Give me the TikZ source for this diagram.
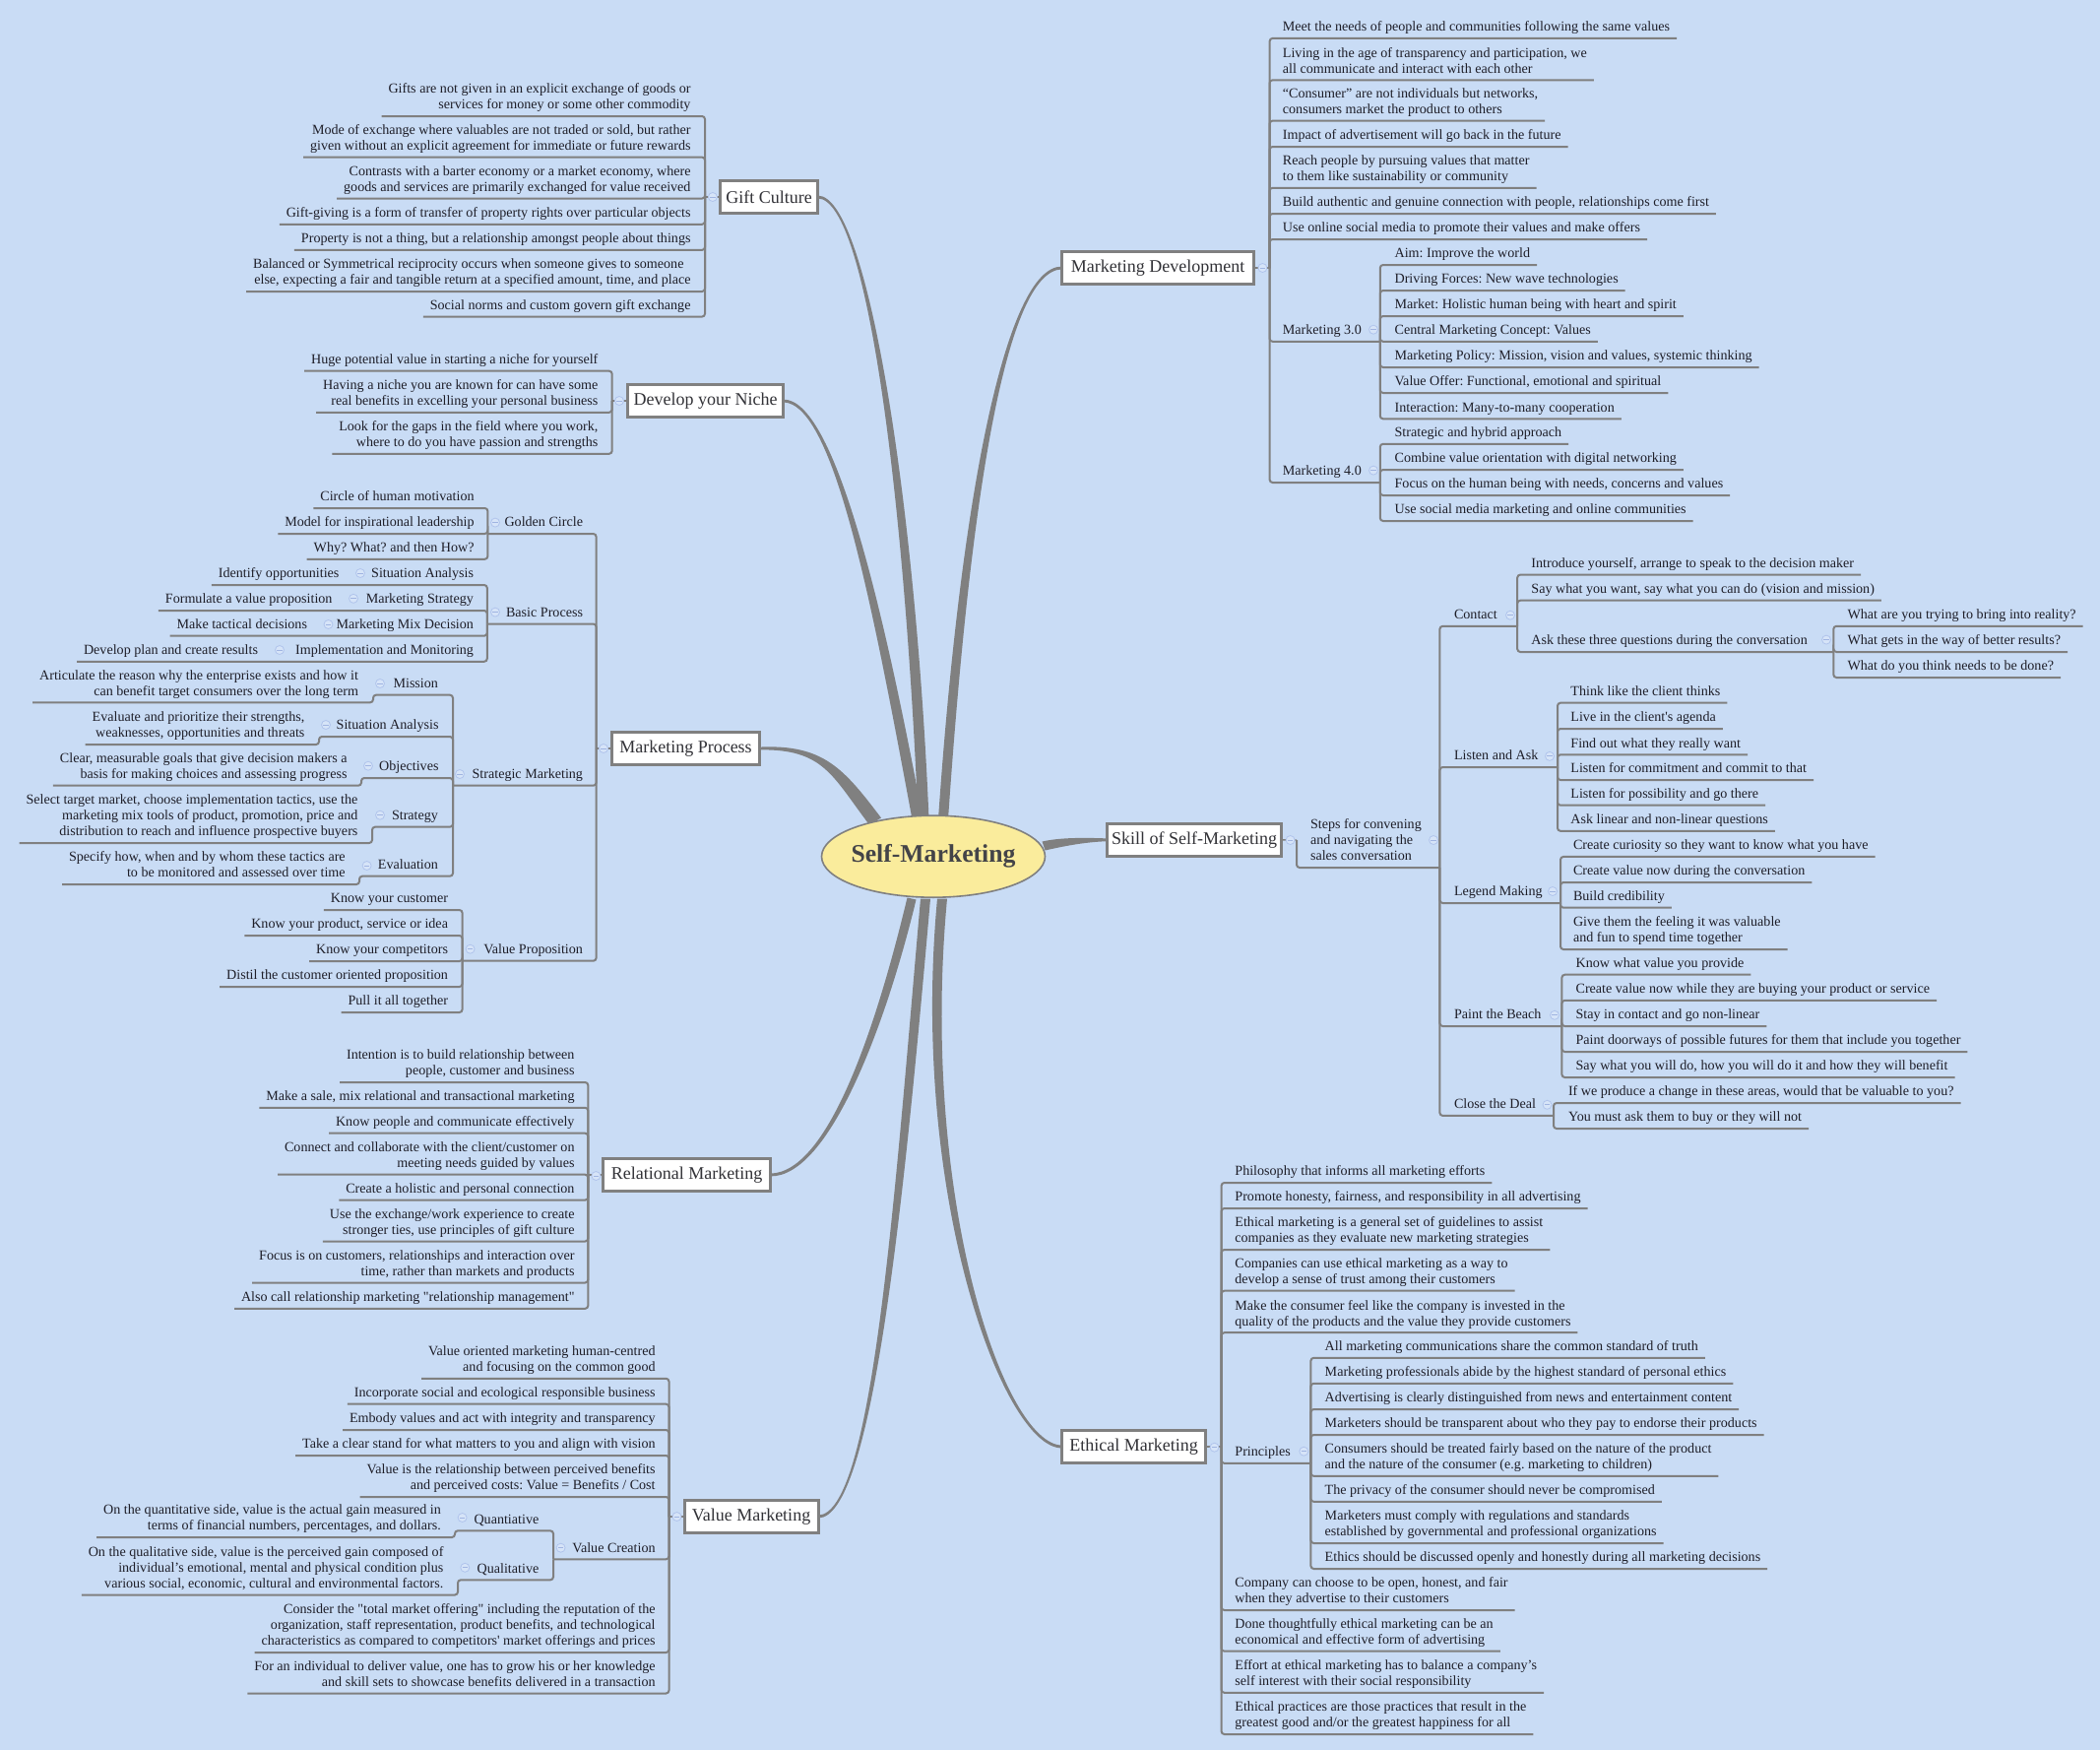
\documentclass[tikz,border=0pt]{standalone}
\usepackage{fontspec}
\usetikzlibrary{calc,shapes.geometric}
\newfontfamily\mapfont{Liberation Serif}
\AtBeginDocument{\frenchspacing}
\definecolor{bgblue}{RGB}{201,220,245}
\definecolor{linegrey}{RGB}{128,128,128}
\definecolor{hubyellow}{RGB}{250,236,156}
\definecolor{leaftext}{RGB}{30,30,40}
\definecolor{boxtext}{RGB}{50,50,55}
\definecolor{hubtext}{RGB}{68,68,72}
\definecolor{mkfill}{RGB}{214,228,248}
\definecolor{mkline}{RGB}{176,196,236}
\definecolor{mkminus}{RGB}{160,180,225}
\tikzset{
  conn/.style={draw=linegrey,line width=2pt,rounded corners=3pt},
  thinconn/.style={draw=linegrey,line width=1.4pt},
  taper/.style={fill=linegrey,draw=none},
  leafL/.style={anchor=south east,align=right,inner sep=0pt,outer sep=0pt,text depth=7.2pt,text=leaftext,font=\mapfont\fontsize{14.1}{16}\selectfont},
  leafR/.style={anchor=south west,align=left,inner sep=0pt,outer sep=0pt,text depth=7.2pt,text=leaftext,font=\mapfont\fontsize{14.1}{16}\selectfont},
  topicbox/.style={draw=linegrey,line width=3pt,fill=white,text=boxtext,inner sep=0pt,outer sep=0pt,minimum height=33pt,font=\mapfont\fontsize{18}{20}\selectfont},
  hubnode/.style={ellipse,draw=linegrey,line width=1.6pt,fill=hubyellow,text=hubtext,inner ysep=0pt,inner xsep=-10pt,outer sep=0pt,minimum width=227pt,minimum height=83pt,font=\mapfont\bfseries\fontsize{25.7}{30}\selectfont},
  marker/.style={circle,draw=mkline,line width=0.8pt,fill=mkfill,minimum size=9pt,inner sep=0pt,
    path picture={\draw[draw=mkminus,line width=0.9pt] ($(path picture bounding box.center)+(-2.6,0)$) -- ($(path picture bounding box.center)+(2.6,0)$);}},
}
% left-side leaf: name, text right x, underline y, text, parent hub
\newcommand\lleaf[5]{\node[leafL] (#1) at (#2,#3) {#4};\draw[conn] (#5) |- ($(#1.south west)+(-7,0)$);}
\newcommand\rleaf[5]{\node[leafR] (#1) at (#2,#3) {#4};\draw[conn] (#5) |- ($(#1.south east)+(7,0)$);}
% label with a child reached through a step: label name,x,y,text,corner x,child name,x,y,text,hub
\newcommand\nestL[9]{\node[leafL] (#1) at (#2,#3) {#4};\coordinate (#1-c) at (#5,#3);\node[leafL] (#6) at (#7,#8) {#9};\nestLdraw{#1}{#6}}
\newcommand\nestLdraw[3]{\draw[conn] (#3) |- (#1-c) |- ($(#2.south west)+(-7,0)$);}
\newcommand\mk[3]{\node[marker] (#1) at (#2,#3) {};}
% tapered branch: start, end, start control offset, end control offset, half width at the end
\newcommand\branch[5]{\fill[taper] ($(#1)+(0,-1.4)$) .. controls ($(#1)+(#3)+(0,-2.4)$) and ($(#2)+(#4)+(#5)$) .. ($(#2)+(#5)$) -- ($(#2)-(#5)$) .. controls ($(#2)+(#4)-(#5)$) and ($(#1)+(#3)+(0,2.4)$) .. ($(#1)+(0,1.4)$) -- cycle;}
\begin{document}
\begin{tikzpicture}[x=1pt,y=-1pt]
\useasboundingbox (0,0) rectangle (2133,1777);
\fill[bgblue] (0,0) rectangle (2133,1777);

% main topics
\node[topicbox,minimum width=99pt] (gift) at (781,200) {Gift Culture};
\node[topicbox,minimum width=158pt] (niche) at (716.5,407) {Develop your Niche};
\node[topicbox,minimum width=150pt] (proc) at (696.5,760) {Marketing Process};
\node[topicbox,minimum width=170pt] (rel) at (697.5,1193) {Relational Marketing};
\node[topicbox,minimum width=136pt] (val) at (763,1540) {Value Marketing};
\node[topicbox,minimum width=194.5pt] (mdev) at (1176,272) {Marketing Development};
\node[topicbox,minimum width=177.5pt] (skill) at (1213.2,852.8) {Skill of Self-Marketing};
\node[topicbox,minimum width=145.7pt] (eth) at (1151.6,1469) {Ethical Marketing};

% ends of the branches on the central topic
\coordinate (eGift) at (938,832);
\coordinate (eNiche) at (932,832);
\coordinate (eProc) at (889,834);
\coordinate (eMdev) at (958,832);
\coordinate (eSkill) at (1060,859);
\coordinate (eRel) at (926,912.5);
\coordinate (eVal) at (940,912.5);
\coordinate (eEth) at (957,912.5);
\branch{gift.east}{eGift}{52,0}{-13,-310}{5.5,0}
\branch{niche.east}{eNiche}{52,0}{-40,-215}{5.5,0}
\branch{proc.east}{eProc}{65,-2}{-38,-50}{6,-3.5}
\branch{mdev.west}{eMdev}{-58,0}{22,-320}{-5,0}
\branch{rel.east}{eRel}{60,0}{-30,125}{-4.5,-1}
\branch{val.east}{eVal}{55,0}{-27,310}{-5,0}
\branch{eth.west}{eEth}{-60,0}{-28,300}{5,0}
\branch{skill.west}{eSkill}{-25,0}{18,-4}{-1.5,-4.5}
\node[hubnode] (hub) at (948,869.7) {Self-Marketing};

% ---------- Gift Culture
\coordinate (hGift) at (716,200);
\draw[thinconn] (gift.west) -- (hGift);
\lleaf{g1}{701.5}{118}{Gifts are not given in an explicit exchange of goods or\\services for money or some other commodity}{hGift}
\lleaf{g2}{701.5}{159.6}{Mode of exchange where valuables are not traded or sold, but rather\\given without an explicit agreement for immediate or future rewards}{hGift}
\lleaf{g3}{701.5}{201.6}{Contrasts with a barter economy or a market economy, where\\goods and services are primarily exchanged for value received}{hGift}
\lleaf{g4}{701.5}{227.8}{Gift-giving is a form of transfer of property rights over particular objects}{hGift}
\lleaf{g5}{701.5}{253.9}{Property is not a thing, but a relationship amongst people about things}{hGift}
\lleaf{g6}{701.5}{296}{Balanced or Symmetrical reciprocity occurs when someone gives to someone\kern7pt\\else, expecting a fair and tangible return at a specified amount, time, and place}{hGift}
\lleaf{g7}{701.5}{321.6}{Social norms and custom govern gift exchange}{hGift}
\mk{mGift}{723.9}{200}

% ---------- Develop your Niche
\coordinate (hNiche) at (621.7,407);
\draw[thinconn] (niche.west) -- (hNiche);
\lleaf{n1}{607.4}{376.7}{Huge potential value in starting a niche for yourself}{hNiche}
\lleaf{n2}{607.4}{418.8}{Having a niche you are known for can have some\\real benefits in excelling your personal business}{hNiche}
\lleaf{n3}{607.4}{460.8}{Look for the gaps in the field where you work,\\where to do you have passion and strengths}{hNiche}
\mk{mNiche}{629}{407}

% ---------- Marketing Process
\coordinate (hProc) at (605.6,760);
\draw[thinconn] (proc.west) -- (hProc);
\mk{mProc}{613}{760}
% Golden Circle
\coordinate (hGold) at (495.4,542);
\node[leafL] (lGold) at (592,542) {Golden Circle};
\draw[conn] (hProc) |- (hGold);
\lleaf{p1}{481.6}{516}{Circle of human motivation}{hGold}
\lleaf{p2}{481.6}{542}{Model for inspirational leadership}{hGold}
\lleaf{p3}{481.6}{567.8}{Why? What? and then How?}{hGold}
\mk{mGold}{503}{530.6}
% Basic Process
\coordinate (hBasic) at (494.8,633.5);
\node[leafL] (lBasic) at (592,633.5) {Basic Process};
\draw[conn] (hProc) |- (hBasic);
\mk{mBasic}{503}{621.6}
\node[leafL] (bl1) at (481,594) {Situation Analysis};
\lleaf{bc1}{344.4}{594}{Identify opportunities}{hBasic}
\mk{mb1}{366}{582}
\node[leafL] (bl2) at (481,620) {Marketing Strategy};
\lleaf{bc2}{337.5}{620}{Formulate a value proposition}{hBasic}
\mk{mb2}{359}{607.8}
\node[leafL] (bl3) at (481,645.7) {Marketing Mix Decision};
\lleaf{bc3}{312}{645.7}{Make tactical decisions}{hBasic}
\mk{mb3}{333.5}{634}
\node[leafL] (bl4) at (481,671.8) {Implementation and Monitoring};
\lleaf{bc4}{262}{671.8}{Develop plan and create results}{hBasic}
\mk{mb4}{284}{660}
% Strategic Marketing
\coordinate (hStrat) at (460,797.7);
\node[leafL] (lStrat) at (592,797.7) {Strategic Marketing};
\draw[conn] (hProc) |- (hStrat);
\mk{mStrat}{467}{786}
\nestL{s1}{445}{705.7}{Mission}{379}{s1c}{364}{713.3}{Articulate the reason why the enterprise exists and how it\\can benefit target consumers over the long term}{hStrat}
\mk{ms1}{386}{694}
\nestL{s2}{445.5}{748}{Situation Analysis}{324}{s2c}{309.4}{756}{Evaluate and prioritize their strengths,\\weaknesses, opportunities and threats}{hStrat}
\mk{ms2}{331}{736}
\nestL{s3}{445.5}{790}{Objectives}{367}{s3c}{352.5}{797.7}{Clear, measurable goals that give decision makers a\\basis for making choices and assessing progress}{hStrat}
\mk{ms3}{374}{777.7}
\nestL{s4}{445}{839.7}{Strategy}{378}{s4c}{363.4}{856}{Select target market, choose implementation tactics, use the\\marketing mix tools of product, promotion, price and\\distribution to reach and influence prospective buyers}{hStrat}
\mk{ms4}{386}{827.7}
\nestL{s5}{445}{889.7}{Evaluation}{365}{s5c}{350.7}{898}{Specify how, when and by whom these tactics are\\to be monitored and assessed over time}{hStrat}
\mk{ms5}{372.6}{879}
% Value Proposition
\coordinate (hProp) at (469.6,975.7);
\node[leafL] (lProp) at (592,975.7) {Value Proposition};
\draw[conn] (hProc) |- (hProp);
\mk{mProp}{477.6}{963.7}
\lleaf{v1}{455}{924}{Know your customer}{hProp}
\lleaf{v2}{455}{950}{Know your product, service or idea}{hProp}
\lleaf{v3}{455}{976}{Know your competitors}{hProp}
\lleaf{v4}{455}{1002}{Distil the customer oriented proposition}{hProp}
\lleaf{v5}{455}{1028}{Pull it all together}{hProp}

% ---------- Relational Marketing
\coordinate (hRel) at (597.3,1193);
\draw[thinconn] (rel.west) -- (hRel);
\lleaf{r1}{583.5}{1099}{Intention is to build relationship between\\people, customer and business}{hRel}
\lleaf{r2}{583.5}{1124.8}{Make a sale, mix relational and transactional marketing}{hRel}
\lleaf{r3}{583.5}{1150.7}{Know people and communicate effectively}{hRel}
\lleaf{r4}{583.5}{1192.7}{Connect and collaborate with the client/customer on\\meeting needs guided by values}{hRel}
\lleaf{r5}{583.5}{1218.6}{Create a holistic and personal connection}{hRel}
\lleaf{r6}{583.5}{1260.5}{Use the exchange/work experience to create\\stronger ties, use principles of gift culture}{hRel}
\lleaf{r7}{583.5}{1302.5}{Focus is on customers, relationships and interaction over\\time, rather than markets and products}{hRel}
\lleaf{r8}{583.5}{1328.8}{Also call relationship marketing "relationship management"}{hRel}
\mk{mRel}{605.4}{1194}

% ---------- Value Marketing
\coordinate (hVal) at (679.5,1540);
\draw[thinconn] (val.west) -- (hVal);
\lleaf{w1}{665.6}{1399.8}{Value oriented marketing human-centred\\and focusing on the common good}{hVal}
\lleaf{w2}{665.6}{1425.7}{Incorporate social and ecological responsible business}{hVal}
\lleaf{w3}{665.6}{1452}{Embody values and act with integrity and transparency}{hVal}
\lleaf{w4}{665.6}{1478}{Take a clear stand for what matters to you and align with vision}{hVal}
\lleaf{w5}{665.6}{1520}{Value is the relationship between perceived benefits\\and perceived costs: Value = Benefits / Cost}{hVal}
\coordinate (hCre) at (562,1583.3);
\node[leafL] (lCre) at (665.6,1583.3) {Value Creation};
\draw[conn] (hVal) |- (hCre);
\mk{mCre}{569.6}{1571.7}
\nestL{q1}{547.3}{1554.3}{Quantiative}{462}{q1c}{447.8}{1561}{On the quantitative side, value is the actual gain measured in\\terms of financial numbers, percentages, and dollars.}{hCre}
\mk{mq1}{469.6}{1541}
\nestL{q2}{547.3}{1604.3}{Qualitative}{465}{q2c}{450.4}{1619.5}{On the qualitative side, value is the perceived gain composed of\\individual’s emotional, mental and physical condition plus\\various social, economic, cultural and environmental factors.}{hCre}
\mk{mq2}{472.3}{1591.8}
\lleaf{w6}{665.6}{1678}{Consider the "total market offering" including the reputation of the\\organization, staff representation, product benefits, and technological\\characteristics as compared to competitors' market offerings and prices}{hVal}
\lleaf{w7}{665.6}{1719.5}{For an individual to deliver value, one has to grow his or her knowledge\\and skill sets to showcase benefits delivered in a transaction}{hVal}
\mk{mVal}{687.5}{1540}

% ---------- Marketing Development
\coordinate (hDev) at (1289.6,272);
\draw[thinconn] (mdev.east) -- (hDev);
\rleaf{d1}{1302.9}{38.9}{Meet the needs of people and communities following the same values}{hDev}
\rleaf{d2}{1302.9}{81.3}{Living in the age of transparency and participation, we\\all communicate and interact with each other}{hDev}
\rleaf{d3}{1302.9}{122.6}{“Consumer” are not individuals but networks,\\consumers market the product to others}{hDev}
\rleaf{d4}{1302.9}{149}{Impact of advertisement will go back in the future}{hDev}
\rleaf{d5}{1302.9}{190.8}{Reach people by pursuing values that matter\\to them like sustainability or community}{hDev}
\rleaf{d6}{1302.9}{217}{Build authentic and genuine connection with people, relationships come first}{hDev}
\rleaf{d7}{1302.9}{243}{Use online social media to promote their values and make offers}{hDev}
\mk{mDev}{1282.4}{272}
\coordinate (hM3) at (1401.8,346.8);
\node[leafR] (lM3) at (1302.9,346.8) {Marketing 3.0};
\draw[conn] (hDev) |- (hM3);
\mk{mM3}{1395}{334.7}
\rleaf{e1}{1416.6}{269}{Aim: Improve the world}{hM3}
\rleaf{e2}{1416.6}{295}{Driving Forces: New wave technologies}{hM3}
\rleaf{e3}{1416.6}{321}{Market: Holistic human being with heart and spirit}{hM3}
\rleaf{e4}{1416.6}{346.8}{Central Marketing Concept: Values}{hM3}
\rleaf{e5}{1416.6}{373}{Marketing Policy: Mission, vision and values, systemic thinking}{hM3}
\rleaf{e6}{1416.6}{399}{Value Offer: Functional, emotional and spiritual}{hM3}
\rleaf{e7}{1416.6}{425.3}{Interaction: Many-to-many cooperation}{hM3}
\coordinate (hM4) at (1401.8,490);
\node[leafR] (lM4) at (1302.9,490) {Marketing 4.0};
\draw[conn] (hDev) |- (hM4);
\mk{mM4}{1395}{477.6}
\rleaf{f1}{1416.6}{450.8}{Strategic and hybrid approach}{hM4}
\rleaf{f2}{1416.6}{477}{Combine value orientation with digital networking}{hM4}
\rleaf{f3}{1416.6}{503}{Focus on the human being with needs, concerns and values}{hM4}
\rleaf{f4}{1416.6}{529}{Use social media marketing and online communities}{hM4}

% ---------- Skill of Self-Marketing
\coordinate (hSkill) at (1317,853);
\draw[thinconn] (skill.east) -- (hSkill);
\mk{mSkill}{1310.6}{853}
\coordinate (hSteps) at (1462.4,881);
\node[leafR] (steps) at (1331,881) {Steps for convening\\and navigating the\\sales conversation};
\draw[conn] (hSkill) |- (hSteps);
\mk{mSteps}{1456}{853}
% Contact
\coordinate (hCon) at (1541.2,635.8);
\node[leafR] (lCon) at (1477,635.8) {Contact};
\draw[conn] (hSteps) |- (hCon);
\mk{mCon}{1534}{624.7}
\rleaf{c1}{1555.4}{583.6}{Introduce yourself, arrange to speak to the decision maker}{hCon}
\rleaf{c2}{1555.4}{609.7}{Say what you want, say what you can do (vision and mission)}{hCon}
\coordinate (hAsk) at (1862.3,662);
\node[leafR] (c3) at (1555.4,662) {Ask these three questions during the conversation};
\draw[conn] (hCon) |- (hAsk);
\mk{mAsk}{1855}{649.6}
\rleaf{k1}{1876.5}{635.8}{What are you trying to bring into reality?}{hAsk}
\rleaf{k2}{1876.5}{662}{What gets in the way of better results?}{hAsk}
\rleaf{k3}{1876.5}{688}{What do you think needs to be done?}{hAsk}
% Listen and Ask
\coordinate (hLis) at (1582,779);
\node[leafR] (lLis) at (1477,779) {Listen and Ask};
\draw[conn] (hSteps) |- (hLis);
\mk{mLis}{1574}{767.9}
\rleaf{i1}{1595.4}{713.7}{Think like the client thinks}{hLis}
\rleaf{i2}{1595.4}{740}{Live in the client's agenda}{hLis}
\rleaf{i3}{1595.4}{766.3}{Find out what they really want}{hLis}
\rleaf{i4}{1595.4}{792}{Listen for commitment and commit to that}{hLis}
\rleaf{i5}{1595.4}{817.7}{Listen for possibility and go there}{hLis}
\rleaf{i6}{1595.4}{843.8}{Ask linear and non-linear questions}{hLis}
% Legend Making
\coordinate (hLeg) at (1585,917);
\node[leafR] (lLeg) at (1477,917) {Legend Making};
\draw[conn] (hSteps) |- (hLeg);
\mk{mLeg}{1577}{905}
\rleaf{a1}{1598}{869.9}{Create curiosity so they want to know what you have}{hLeg}
\rleaf{a2}{1598}{896}{Create value now during the conversation}{hLeg}
\rleaf{a3}{1598}{921.7}{Build credibility}{hLeg}
\rleaf{a4}{1598}{964}{Give them the feeling it was valuable\\and fun to spend time together}{hLeg}
% Paint the Beach
\coordinate (hPai) at (1586.4,1042);
\node[leafR] (lPai) at (1477,1042) {Paint the Beach};
\draw[conn] (hSteps) |- (hPai);
\mk{mPai}{1579}{1030.8}
\rleaf{b1}{1600.6}{989.7}{Know what value you provide}{hPai}
\rleaf{b2}{1600.6}{1015.8}{Create value now while they are buying your product or service}{hPai}
\rleaf{b3}{1600.6}{1042}{Stay in contact and go non-linear}{hPai}
\rleaf{b4}{1600.6}{1068}{Paint doorways of possible futures for them that include you together}{hPai}
\rleaf{b5}{1600.6}{1094}{Say what you will do, how you will do it and how they will benefit}{hPai}
% Close the Deal
\coordinate (hClo) at (1578,1132.9);
\node[leafR] (lClo) at (1477,1132.9) {Close the Deal};
\draw[conn] (hSteps) |- (hClo);
\mk{mClo}{1571.5}{1121.8}
\rleaf{h1}{1593}{1120}{If we produce a change in these areas, would that be valuable to you?}{hClo}
\rleaf{h2}{1593}{1146}{You must ask them to buy or they will not}{hClo}

% ---------- Ethical Marketing
\coordinate (hEth) at (1240.6,1469);
\draw[thinconn] (eth.east) -- (hEth);
\rleaf{t1}{1254.4}{1201}{Philosophy that informs all marketing efforts}{hEth}
\rleaf{t2}{1254.4}{1227}{Promote honesty, fairness, and responsibility in all advertising}{hEth}
\rleaf{t3}{1254.4}{1269}{Ethical marketing is a general set of guidelines to assist\\companies as they evaluate new marketing strategies}{hEth}
\rleaf{t4}{1254.4}{1310.7}{Companies can use ethical marketing as a way to\\develop a sense of trust among their customers}{hEth}
\rleaf{t5}{1254.4}{1353.2}{Make the consumer feel like the company is invested in the\\quality of the products and the value they provide customers}{hEth}
\coordinate (hPri) at (1331.4,1485.9);
\node[leafR] (lPri) at (1254.4,1485.9) {Principles};
\draw[conn] (hEth) |- (hPri);
\mk{mPri}{1324.3}{1473.7}
\mk{mEth}{1233.5}{1469.7}
\rleaf{u1}{1345.7}{1378.8}{All marketing communications share the common standard of truth}{hPri}
\rleaf{u2}{1345.7}{1404.8}{Marketing professionals abide by the highest standard of personal ethics}{hPri}
\rleaf{u3}{1345.7}{1431}{Advertising is clearly distinguished from news and entertainment content}{hPri}
\rleaf{u4}{1345.7}{1457}{Marketers should be transparent about who they pay to endorse their products}{hPri}
\rleaf{u5}{1345.7}{1498.8}{Consumers should be treated fairly based on the nature of the product\\and the nature of the consumer (e.g. marketing to children)}{hPri}
\rleaf{u6}{1345.7}{1524.8}{The privacy of the consumer should never be compromised}{hPri}
\rleaf{u7}{1345.7}{1567}{Marketers must comply with regulations and standards\\established by governmental and professional organizations}{hPri}
\rleaf{u8}{1345.7}{1593}{Ethics should be discussed openly and honestly during all marketing decisions}{hPri}
\rleaf{t6}{1254.4}{1635}{Company can choose to be open, honest, and fair\\when they advertise to their customers}{hEth}
\rleaf{t7}{1254.4}{1676.7}{Done thoughtfully ethical marketing can be an\\economical and effective form of advertising}{hEth}
\rleaf{t8}{1254.4}{1718.8}{Effort at ethical marketing has to balance a company’s\\self interest with their social responsibility}{hEth}
\rleaf{t9}{1254.4}{1761}{Ethical practices are those practices that result in the\\greatest good and/or the greatest happiness for all}{hEth}
\end{tikzpicture}
\end{document}
